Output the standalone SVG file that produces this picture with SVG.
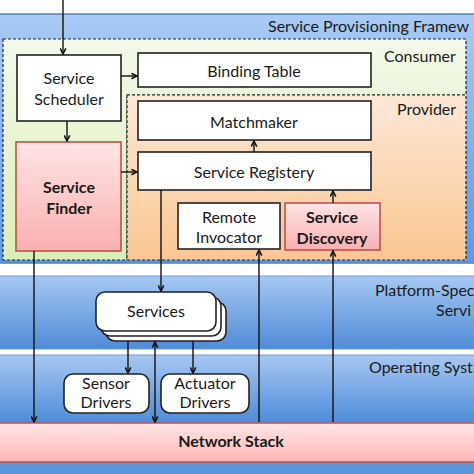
<svg xmlns="http://www.w3.org/2000/svg" width="474" height="474" viewBox="0 0 474 474">
<defs>
<linearGradient id="gFw" x1="0" y1="0" x2="0" y2="1"><stop offset="0" stop-color="#a9cbf4"/><stop offset="1" stop-color="#5e99e0"/></linearGradient>
<linearGradient id="gBand" x1="0" y1="0" x2="0" y2="1"><stop offset="0" stop-color="#a6c8f2"/><stop offset="1" stop-color="#4f8bd8"/></linearGradient>
<linearGradient id="gNet" x1="0" y1="0" x2="0" y2="1"><stop offset="0" stop-color="#ffe6e6"/><stop offset="1" stop-color="#ffb4b4"/></linearGradient>
<linearGradient id="gCons" x1="0" y1="0" x2="0" y2="1"><stop offset="0" stop-color="#f4f9ea"/><stop offset="1" stop-color="#d9efb6"/></linearGradient>
<linearGradient id="gProv" x1="0" y1="0" x2="0" y2="1"><stop offset="0" stop-color="#fde8d6"/><stop offset="1" stop-color="#fbc693"/></linearGradient>
<linearGradient id="gPink" x1="0" y1="0" x2="0" y2="1"><stop offset="0" stop-color="#ffe4e4"/><stop offset="1" stop-color="#f9b0b0"/></linearGradient>
<marker id="ah" viewBox="0 0 10 10" refX="9" refY="5" markerWidth="7" markerHeight="7" orient="auto-start-reverse" markerUnits="userSpaceOnUse">
<path d="M1,1 L9,5 L1,9" fill="none" stroke="#111" stroke-width="2.2"/>
</marker>
</defs>
<style>
text{font-family:Lato,"Open Sans","Liberation Sans",sans-serif;fill:#1a1a1a;}
.t{font-size:16px;}
.c{text-anchor:middle;}
.b{font-weight:bold;}
.box{fill:#ffffff;stroke:#222;stroke-width:1.6;}
.pink{fill:url(#gPink);stroke:#c0504d;stroke-width:1.6;}
.dash{stroke:#222;stroke-width:1.2;stroke-dasharray:3,2;}
.con{fill:none;stroke:#111;stroke-width:1.4;marker-end:url(#ah);}
</style>
<rect width="474" height="474" fill="#ffffff"/>
<g id="layers">
<rect x="-5" y="14" width="484" height="249" fill="url(#gFw)" stroke="#4f81bd" stroke-width="1.5"/>
<text class="t" x="268" y="32">Service Provisioning Framew</text>
<rect x="-5" y="276" width="484" height="73" fill="url(#gBand)" stroke="#6d9be0" stroke-width="1"/>
<text class="t" x="375" y="296">Platform-Spec</text>
<text class="t" x="436" y="316">Servi</text>
<rect x="-5" y="355" width="484" height="68" fill="url(#gBand)" stroke="#6d9be0" stroke-width="1"/>
<text class="t" x="369" y="373">Operating Syst</text>
<rect x="-5" y="462" width="484" height="20" fill="#5b95dc"/>
</g>
<g id="consumer">
<path d="M3,39 H466 V95 H127 V260 H3 Z" fill="url(#gCons)" class="dash"/>
<text class="t" x="384" y="62">Consumer</text>
</g>
<g id="provider">
<rect x="127" y="95" width="339" height="165" fill="url(#gProv)" class="dash"/>
<text class="t" x="397" y="115">Provider</text>
</g>
<g id="service-scheduler">
<rect class="box" x="17" y="55" width="104" height="66"/>
<text class="t c" x="69" y="84">Service</text>
<text class="t c" x="69" y="105">Scheduler</text>
</g>
<g id="binding-table">
<rect class="box" x="138" y="53" width="233" height="34"/>
<text class="t c" x="254" y="77">Binding Table</text>
</g>
<g id="matchmaker">
<rect class="box" x="138" y="101" width="233" height="39"/>
<text class="t c" x="254" y="128">Matchmaker</text>
</g>
<g id="service-registry">
<rect class="box" x="138" y="152" width="233" height="38"/>
<text class="t c" x="254" y="178">Service Registery</text>
</g>
<g id="service-finder">
<rect class="pink" x="16" y="142" width="105" height="109"/>
<text class="t c b" x="69" y="193">Service</text>
<text class="t c b" x="69" y="214">Finder</text>
</g>
<g id="remote-invocator">
<rect class="box" x="178" y="203" width="102" height="46"/>
<text class="t c" x="229" y="223">Remote</text>
<text class="t c" x="229" y="243">Invocator</text>
</g>
<g id="service-discovery">
<rect class="pink" x="285" y="203" width="95" height="47"/>
<text class="t c b" x="332" y="223">Service</text>
<text class="t c b" x="332" y="244">Discovery</text>
</g>
<g id="services">
<rect class="box" x="106" y="302" width="120" height="39" rx="9"/>
<rect class="box" x="101" y="297" width="120" height="39" rx="9"/>
<rect class="box" x="96" y="292" width="120" height="39" rx="9"/>
<text class="t c" x="156" y="317">Services</text>
</g>
<g id="sensor-drivers">
<rect class="box" x="64" y="374" width="85" height="39" rx="9"/>
<text class="t c" x="106" y="389">Sensor</text>
<text class="t c" x="106" y="408">Drivers</text>
</g>
<g id="actuator-drivers">
<rect class="box" x="161" y="374" width="88" height="39" rx="9"/>
<text class="t c" x="205" y="389">Actuator</text>
<text class="t c" x="205" y="408">Drivers</text>
</g>
<g id="network-stack">
<rect x="-5" y="423" width="484" height="39" fill="url(#gNet)" stroke="#c0504d" stroke-width="1.5"/>
<text class="t c b" x="231" y="447">Network Stack</text>
</g>
<g id="connectors">
<line class="con" x1="63" y1="0" x2="63" y2="54"/>
<line class="con" x1="121" y1="76" x2="137" y2="76"/>
<line class="con" x1="67" y1="121" x2="67" y2="141"/>
<line class="con" x1="121" y1="172" x2="137" y2="172"/>
<line class="con" x1="254" y1="152" x2="254" y2="141"/>
<line class="con" x1="333" y1="203" x2="333" y2="191"/>
<line class="con" x1="259" y1="422" x2="259" y2="250"/>
<line class="con" x1="333" y1="422" x2="333" y2="251"/>
<line class="con" x1="161" y1="190" x2="161" y2="291"/>
<line class="con" x1="34" y1="251" x2="34" y2="422"/>
<line class="con" x1="128" y1="341" x2="128" y2="373"/>
<line class="con" x1="193" y1="341" x2="193" y2="373"/>
<line class="con" x1="155" y1="342" x2="155" y2="422" style="marker-start:url(#ah)"/>
</g>
</svg>
